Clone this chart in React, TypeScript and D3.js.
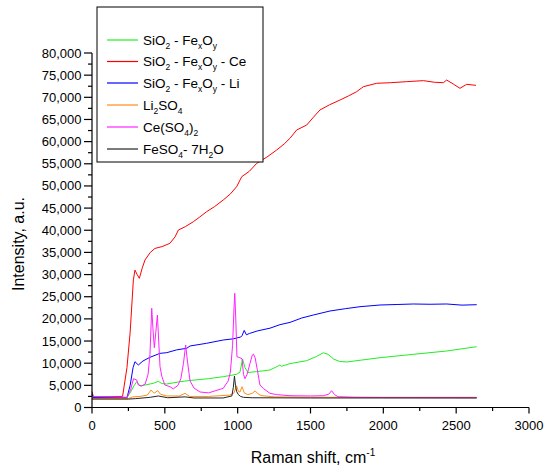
import React from "react";
import * as d3 from "d3";

const W = 550;
const H = 475;

// x values (Raman shift, cm-1) and intensities per series
const greenX = [0, 240, 265, 290, 307, 330, 398, 421, 455, 480, 513, 600, 673, 800, 901, 993, 1016, 1034, 1050, 1071, 1131, 1222, 1268, 1290, 1300, 1359, 1474, 1540, 1588, 1620, 1660, 1700, 1749, 1850, 1977, 2206, 2435, 2641];
const greenY = [2300, 2200, 3500, 5000, 5830, 4850, 5300, 5460, 5900, 5400, 5300, 5800, 6100, 6500, 6950, 7490, 8000, 10950, 9000, 7900, 8100, 8460, 9200, 9590, 9300, 9900, 10570, 11500, 12350, 12000, 10900, 10400, 10270, 10700, 11240, 12000, 12750, 13720];

const redX = [0, 10, 210, 240, 262, 284, 295, 310, 325, 345, 364, 400, 432, 480, 535, 570, 593, 640, 696, 740, 787, 840, 901, 950, 993, 1028, 1080, 1131, 1200, 1268, 1320, 1359, 1405, 1474, 1520, 1565, 1630, 1703, 1760, 1817, 1863, 1954, 2050, 2160, 2275, 2350, 2412, 2435, 2480, 2526, 2572, 2636];
const redY = [3600, 2400, 2500, 9000, 17000, 28800, 31000, 30000, 29150, 31500, 33300, 35000, 35900, 36300, 37050, 38500, 40050, 40800, 41930, 43000, 44190, 45300, 46830, 48200, 49830, 52090, 53300, 55100, 56500, 58110, 59500, 60750, 62620, 63750, 65500, 67140, 68300, 69400, 70300, 71270, 72400, 73160, 73300, 73530, 73760, 73400, 73300, 73900, 73000, 72030, 72930, 72700];

const blueX = [0, 10, 240, 262, 282, 295, 318, 350, 398, 467, 513, 580, 650, 673, 787, 901, 970, 1021, 1030, 1045, 1060, 1080, 1138, 1222, 1291, 1359, 1440, 1519, 1634, 1740, 1840, 1977, 2100, 2206, 2320, 2435, 2540, 2641];
const blueY = [3000, 2200, 2200, 5000, 9000, 10340, 9590, 10500, 11330, 12220, 12370, 13000, 13360, 13880, 14490, 15230, 15500, 15900, 16200, 17400, 16400, 16700, 17300, 17900, 18700, 19200, 20200, 20870, 21780, 22300, 22750, 23130, 23250, 23360, 23300, 23360, 23100, 23200];

const orangeX = [0, 250, 280, 330, 380, 405, 420, 430, 451, 470, 513, 600, 639, 670, 800, 947, 975, 992, 1005, 1016, 1030, 1045, 1070, 1100, 1120, 1140, 1160, 1250, 1500, 2641];
const orangeY = [2000, 2000, 2400, 2500, 2800, 3950, 3400, 3300, 3800, 3000, 2600, 2600, 3200, 2500, 2500, 2800, 3300, 4930, 3600, 3500, 4700, 3300, 2900, 3200, 3720, 3100, 2700, 2400, 2300, 2300];

const magentaX = [0, 240, 265, 285, 307, 318, 340, 365, 385, 398, 410, 420, 428, 438, 449, 458, 467, 480, 500, 535, 558, 590, 610, 628, 643, 655, 673, 700, 741, 800, 901, 935, 950, 965, 975, 980, 987, 995, 1010, 1030, 1040, 1050, 1065, 1085, 1100, 1108, 1120, 1135, 1153, 1176, 1222, 1268, 1359, 1500, 1588, 1625, 1645, 1665, 1690, 1800, 2000, 2641];
const magentaY = [2500, 2300, 4000, 6500, 6200, 5080, 4850, 5300, 7500, 12000, 22390, 17000, 13500, 17000, 20870, 15000, 9210, 6950, 5080, 4700, 4200, 5000, 6500, 10000, 14100, 10500, 6000, 4400, 3500, 3300, 4330, 6000, 8000, 14000, 22500, 25770, 20000, 11470, 11300, 11000, 7500, 6500, 7500, 10000, 11800, 12050, 11200, 8500, 5080, 4300, 3200, 2900, 2660, 2600, 2660, 3000, 3790, 2900, 2430, 2300, 2250, 2200];

const blackX = [0, 250, 300, 400, 455, 520, 639, 700, 900, 960, 970, 978, 985, 993, 1005, 1020, 1040, 1100, 1500, 2641];
const blackY = [1900, 1900, 2000, 2300, 2600, 2200, 2400, 2150, 2150, 2600, 4500, 7100, 5000, 3600, 2900, 2500, 2300, 2200, 2150, 2150];

const seriesColors = ["#22ee22", "#ff0000", "#0000ff", "#ff8c1a", "#ff22ff", "#222222"];

const xTicks = [0, 500, 1000, 1500, 2000, 2500, 3000];
const yTicks = [0, 5000, 10000, 15000, 20000, 25000, 30000, 35000, 40000, 45000, 50000, 55000, 60000, 65000, 70000, 75000, 80000];

const FONT = "Arial, 'Liberation Sans', sans-serif";

export default function App() {
  const x = d3.scaleLinear().domain([0, 3000]).range([92, 529]);
  const y = d3.scaleLinear().domain([0, 80000]).range([407.5, 53]);

  const series = [
    { xs: greenX, ys: greenY },
    { xs: redX, ys: redY },
    { xs: blueX, ys: blueY },
    { xs: orangeX, ys: orangeY },
    { xs: magentaX, ys: magentaY },
    { xs: blackX, ys: blackY },
  ];

  const line = d3
    .line<[number, number]>()
    .x((d) => x(d[0]))
    .y((d) => y(d[1]));

  const xMinor = d3.range(250, 3000, 500);
  const yMinor = d3.range(2500, 80000, 5000);

  const legendY = [40, 61.5, 83, 105, 127, 149];
  const sub = (t: string, key: string) => (
    <tspan key={key} fontSize={8.5} dy={4}>{t}</tspan>
  );
  const up = (t: string, key: string) => (
    <tspan key={key} dy={-4}>{t}</tspan>
  );

  const legendLabels: React.ReactNode[] = [
    [<tspan key="a">SiO</tspan>, sub("2", "b"), up(" - Fe", "c"), sub("x", "d"), up("O", "e"), sub("y", "f")],
    [<tspan key="a">SiO</tspan>, sub("2", "b"), up(" - Fe", "c"), sub("x", "d"), up("O", "e"), sub("y", "f"), up(" - Ce", "g")],
    [<tspan key="a">SiO</tspan>, sub("2", "b"), up(" - Fe", "c"), sub("x", "d"), up("O", "e"), sub("y", "f"), up(" - Li", "g")],
    [<tspan key="a">Li</tspan>, sub("2", "b"), up("SO", "c"), sub("4", "d")],
    [<tspan key="a">Ce(SO</tspan>, sub("4", "b"), up(")", "c"), sub("2", "d")],
    [<tspan key="a">FeSO</tspan>, sub("4", "b"), up("- 7H", "c"), sub("2", "d"), up("O", "e")],
  ];

  return (
    <svg
      width={W}
      height={H}
      style={{ position: "absolute", left: 0, top: 0, background: "#fff" }}
      fontFamily={FONT}
    >
      <rect x={0} y={0} width={W} height={H} fill="#fff" />
      {/* series */}
      {series.map((s, i) => (
        <path
          key={i}
          d={line(s.xs.map((v, j) => [v, s.ys[j]] as [number, number])) || ""}
          fill="none"
          stroke={seriesColors[i]}
          strokeWidth={1}
          strokeLinejoin="round"
        />
      ))}

      {/* axes */}
      <line x1={x(0)} x2={x(3000)} y1={y(0)} y2={y(0)} stroke="#000" strokeWidth={1.2} />
      <line x1={x(0)} x2={x(0)} y1={y(0)} y2={y(80000)} stroke="#000" strokeWidth={1.2} />
      {xTicks.map((t) => (
        <g key={"xt" + t}>
          <line x1={x(t)} x2={x(t)} y1={y(0)} y2={y(0) + 6} stroke="#000" strokeWidth={1.2} />
          <text x={x(t)} y={429.5} fontSize={13} textAnchor="middle" fill="#000">
            {t}
          </text>
        </g>
      ))}
      {xMinor.map((t) => (
        <line key={"xm" + t} x1={x(t)} x2={x(t)} y1={y(0)} y2={y(0) + 3.5} stroke="#000" strokeWidth={1.2} />
      ))}
      {yTicks.map((t) => (
        <g key={"yt" + t}>
          <line x1={x(0) - 8} x2={x(0)} y1={y(t)} y2={y(t)} stroke="#000" strokeWidth={1.2} />
          <text x={81.5} y={y(t) + 4.5} fontSize={13} textAnchor="end" fill="#000">
            {d3.format(",")(t)}
          </text>
        </g>
      ))}
      {yMinor.map((t) => (
        <line key={"ym" + t} x1={x(0) - 4} x2={x(0)} y1={y(t)} y2={y(t)} stroke="#000" strokeWidth={1.2} />
      ))}

      {/* axis titles */}
      <text x={313} y={463} fontSize={16} textAnchor="middle" fill="#000">
        Raman shift, cm<tspan fontSize={10} dy={-7}>-1</tspan>
      </text>
      <text
        transform="translate(24,244) rotate(-90)"
        fontSize={16}
        textAnchor="middle"
        fill="#000"
      >
        Intensity, a.u.
      </text>

      {/* legend */}
      <rect x={97} y={7} width={166} height={155} fill="#fff" stroke="#000" strokeWidth={1} />
      {legendY.map((ly, i) => (
        <g key={"lg" + i}>
          <line x1={107} x2={138} y1={ly} y2={ly} stroke={seriesColors[i]} strokeWidth={1.2} />
          <text x={143} y={ly + 4.5} fontSize={13.5} fill="#000">
            {legendLabels[i]}
          </text>
        </g>
      ))}
    </svg>
  );
}
